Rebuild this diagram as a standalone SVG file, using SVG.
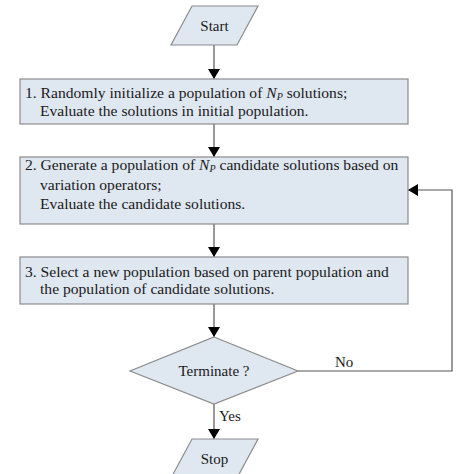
<svg xmlns="http://www.w3.org/2000/svg" width="474" height="474" viewBox="0 0 474 474">
<style>
.shape{fill:#dfe7f1;stroke:#8c8c8c;stroke-width:1.2}
.t{font-family:"Liberation Serif","Times New Roman",serif;font-size:15px;fill:#1a1a1a}
.b{font-size:15.6px}
.c{text-anchor:middle}
.line{fill:none;stroke:#555;stroke-width:1.2}
</style>
<defs>
<marker id="arr" markerWidth="10" markerHeight="12" refX="10" refY="6" orient="auto" markerUnits="userSpaceOnUse">
<path d="M0,0 L10,6 L0,12 Z" fill="#000"/>
</marker>
</defs>
<rect width="474" height="474" fill="#fff"/>
<g id="connectors">
<line class="line" x1="214" y1="45" x2="214" y2="79" marker-end="url(#arr)"/>
<line class="line" x1="214" y1="124" x2="214" y2="157" marker-end="url(#arr)"/>
<line class="line" x1="214" y1="224" x2="214" y2="257" marker-end="url(#arr)"/>
<line class="line" x1="214" y1="304" x2="214" y2="337" marker-end="url(#arr)"/>
<polyline class="line" points="298,371 452,371 452,190 408,190" marker-end="url(#arr)"/>
<line class="line" x1="214" y1="404" x2="214" y2="439" marker-end="url(#arr)"/>
<text class="t" x="335" y="367">No</text>
<text class="t" x="219" y="421">Yes</text>
</g>
<g id="start">
<polygon class="shape" points="192,6 258,6 237,45 171,45"/>
<text class="t c" x="214.5" y="31">Start</text>
</g>
<g id="step1">
<rect class="shape" x="20" y="79" width="388" height="45"/>
<text class="t b" x="25" y="98">1. Randomly initialize a population of <tspan font-style="italic">N</tspan><tspan font-style="italic" font-size="10" dy="2">P</tspan><tspan dy="-2"> solutions;</tspan></text>
<text class="t b" x="40" y="116">Evaluate the solutions in initial population.</text>
</g>
<g id="step2">
<rect class="shape" x="20" y="157" width="388" height="67"/>
<text class="t b" x="25" y="170">2. Generate a population of <tspan font-style="italic">N</tspan><tspan font-style="italic" font-size="10" dy="2">P</tspan><tspan dy="-2"> candidate solutions based on</tspan></text>
<text class="t b" x="40" y="190">variation operators;</text>
<text class="t b" x="40" y="209">Evaluate the candidate solutions.</text>
</g>
<g id="step3">
<rect class="shape" x="20" y="257" width="388" height="47"/>
<text class="t b" x="25" y="277">3. Select a new population based on parent population and</text>
<text class="t b" x="40" y="294">the population of candidate solutions.</text>
</g>
<g id="terminate">
<polygon class="shape" points="214,337 298,371 214,404 130,371"/>
<text class="t c" x="214" y="376">Terminate ?</text>
</g>
<g id="stop">
<polygon class="shape" points="192,439 258,439 237,478 171,478"/>
<text class="t c" x="214.5" y="464">Stop</text>
</g>
</svg>
